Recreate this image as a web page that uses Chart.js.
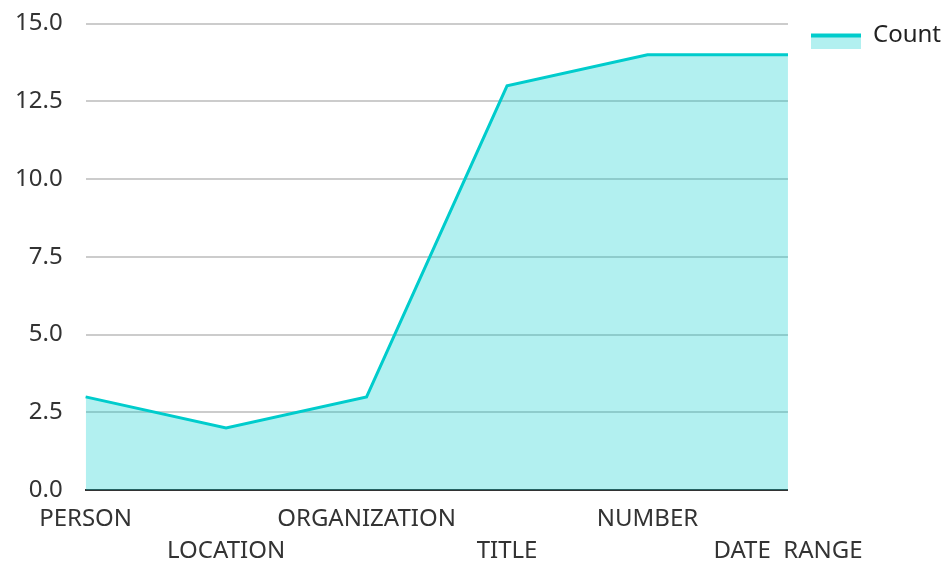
<!DOCTYPE html>
<html>
<head>
<meta charset="utf-8">
<script src="https://cdn.jsdelivr.net/npm/chart.js@4/dist/chart.umd.min.js"></script>
<style>
  html, body { margin: 0; padding: 0; background: #fff; }
  #wrap { width: 944px; height: 562px; }
</style>
</head>
<body>
<div id="wrap"><canvas id="c"></canvas></div>
<script>
const categories = ['PERSON', 'LOCATION', 'ORGANIZATION', 'TITLE', 'NUMBER', 'DATE  RANGE'];
const countValues = [3, 2, 3, 13, 14, 14];
const seriesName = 'Count';

const lineColor = '#00cccc';
const fillColor = 'rgba(0,204,204,0.3)';

// legend swatch: thick top line over light fill (transparent margin left/top)
const swatch = document.createElement('canvas');
swatch.width = 69; swatch.height = 27;
(function () {
  const g = swatch.getContext('2d');
  g.fillStyle = fillColor;
  g.fillRect(19, 12, 50, 15);
  g.fillStyle = lineColor;
  g.fillRect(19, 12, 50, 4);
})();

Chart.defaults.font.family = '"Noto Sans", "Open Sans", sans-serif';
Chart.defaults.color = '#333333';

new Chart(document.getElementById('c'), {
  type: 'line',
  data: {
    labels: categories,
    datasets: [{
      label: seriesName,
      data: countValues,
      borderColor: lineColor,
      backgroundColor: fillColor,
      borderWidth: 3,
      fill: 'origin',
      pointRadius: 0,
      pointHoverRadius: 0,
      tension: 0
    }]
  },
  options: {
    responsive: true,
    maintainAspectRatio: false,
    animation: false,
    layout: { padding: { top: -12, left: -8, right: -7, bottom: -19 } },
    plugins: {
      legend: {
        position: 'right',
        align: 'start',
        title: { display: true, text: ' ', font: { size: 12, lineHeight: 1 }, padding: { top: 19, bottom: 0 } },
        labels: {
          usePointStyle: true,
          pointStyle: swatch,
          pointStyleWidth: 69,
          boxHeight: 15,
          padding: 4,
          font: { size: 24 },
          color: '#222222'
        }
      },
      tooltip: { enabled: false }
    },
    scales: {
      x: {
        offset: false,
        grid: { display: false, drawTicks: false },
        border: { display: true, color: '#333333', width: 2 },
        ticks: {
          autoSkip: false,
          maxRotation: 0,
          minRotation: 0,
          padding: 13.5,
          font: { size: 24, lineHeight: 1.33 },
          color: '#333333',
          callback: function (v, i) {
            const lab = categories[i];
            return i % 2 === 0 ? [lab, ''] : ['', lab];
          }
        }
      },
      y: {
        min: 0,
        max: 15,
        grid: { color: '#cccccc', lineWidth: 2, drawTicks: false },
        border: { display: false },
        ticks: {
          stepSize: 2.5,
          padding: 23,
          font: { size: 24, lineHeight: 0.05 },
          color: '#333333',
          callback: function (v) { return Number(v).toFixed(1); }
        }
      }
    }
  }
});
</script>
</body>
</html>
